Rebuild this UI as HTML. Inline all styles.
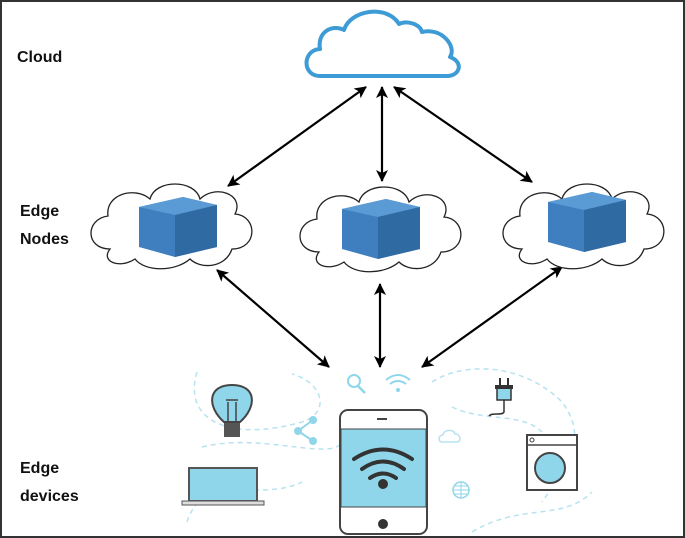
<!DOCTYPE html>
<html><head><style>
body{margin:0;background:#fff}
.w{position:relative;width:681px;height:534px;border:2px solid #333;overflow:hidden;font-family:"Liberation Sans",sans-serif}
.l{position:absolute;font-weight:bold;font-size:16px;color:#111;line-height:28px}
</style></head><body><div class="w">
<div class="l" style="left:15px;top:42px">Cloud</div>
<div class="l" style="left:18px;top:196px">Edge<br>Nodes</div>
<div class="l" style="left:18px;top:453px">Edge<br>devices</div>
<svg width="681" height="534" style="position:absolute;left:0;top:0">
<defs>
<marker id="a" markerWidth="12" markerHeight="12" refX="11" refY="6" orient="auto-start-reverse" markerUnits="userSpaceOnUse" viewBox="0 0 12 12"><path d="M0,0 L12,6 L0,12 L3,6 z" fill="#000"/></marker>
<g id="cl"><path d="M-60,25 C-85,25 -85,-5 -62,-8 C-65,-30 -35,-38 -20,-25 C-15,-45 25,-45 30,-25 C45,-40 75,-30 65,-10 C88,-8 88,25 62,25 C55,45 30,45 20,35 C5,48 -25,48 -35,35 C-50,45 -70,38 -60,25 Z" fill="#fff" stroke="#222" stroke-width="1.3"/></g>
<g id="cube"><polygon points="0,10 44,0 78,8 78,50 36,60 0,50" fill="#3f7fbf"/><polygon points="0,10 44,0 78,8 36,18" fill="#5b9bd5"/><polygon points="36,18 78,8 78,50 36,60" fill="#2f6aa3"/></g>
</defs>
<path d="M318,74 C300,74 300,48 318,47 C315,30 330,22 342,28 C348,8 385,2 397,22 C405,18 418,22 420,30 C440,25 455,45 448,55 C462,60 458,74 445,74 Z" fill="#fff" stroke="#3d9bd6" stroke-width="4" stroke-linejoin="round"/>
<g stroke="#000" stroke-width="2.2" marker-start="url(#a)" marker-end="url(#a)">
<line x1="364" y1="85" x2="226" y2="184"/>
<line x1="380" y1="85" x2="380" y2="179"/>
<line x1="392" y1="85" x2="530" y2="180"/>
<line x1="215" y1="268" x2="327" y2="365"/>
<line x1="378" y1="282" x2="378" y2="365"/>
<line x1="560" y1="265" x2="420" y2="365"/>
</g>
<use href="#cl" x="168" y="222"/><use href="#cl" x="377" y="225"/><use href="#cl" x="580" y="222"/>
<use href="#cube" x="137" y="195"/><use href="#cube" x="340" y="197"/><use href="#cube" x="546" y="190"/>
<g fill="none" stroke="#b7e2f0" stroke-width="1.5" stroke-dasharray="5 4">
<path d="M195,370 C180,420 230,440 300,420 C330,410 320,380 290,372"/>
<path d="M200,445 C260,430 330,460 340,440"/>
<path d="M185,520 C200,470 260,500 300,480"/>
<path d="M430,380 C460,360 520,360 560,400 C590,440 560,470 540,500"/>
<path d="M470,530 C520,500 560,520 590,490"/>
<path d="M450,405 C480,420 520,410 540,430"/>
</g>
<rect x="338" y="408" width="87" height="124" rx="8" fill="#fff" stroke="#444" stroke-width="2"/>
<rect x="339" y="427" width="85" height="78" fill="#8fd6ea" stroke="#444" stroke-width="1"/>
<rect x="375" y="416" width="10" height="2" fill="#444"/>
<circle cx="381" cy="522" r="5" fill="#333"/>
<g fill="none" stroke="#333" stroke-width="4" stroke-linecap="round">
<path d="M352,457 Q381,438 410,457"/><path d="M360,467 Q381,452 402,467"/><path d="M368,476 Q381,467 394,476"/></g>
<circle cx="381" cy="482" r="5" fill="#333"/>
<rect x="187" y="466" width="68" height="33" fill="#8fd6ea" stroke="#555" stroke-width="2"/>
<rect x="180" y="499" width="82" height="4" fill="#ddd" stroke="#555" stroke-width="1"/>
<path d="M222,420 C205,405 205,383 230,383 C255,383 255,405 238,420 Z" fill="#8fd6ea" stroke="#444" stroke-width="2"/>
<rect x="222" y="421" width="16" height="14" fill="#555"/>
<path d="M226,420 V400 M234,420 V400 M224,398 H236" stroke="#444" stroke-width="1.5"/>
<g fill="#8fd6ea"><circle cx="311" cy="418" r="4"/><circle cx="296" cy="429" r="4"/><circle cx="311" cy="439" r="4"/></g>
<path d="M311,418 L296,429 L311,439" stroke="#8fd6ea" stroke-width="2" fill="none"/>
<circle cx="352" cy="379" r="6" fill="none" stroke="#8fd6ea" stroke-width="2"/>
<line x1="356" y1="384" x2="363" y2="391" stroke="#8fd6ea" stroke-width="2.5"/>
<g fill="none" stroke="#8fd6ea" stroke-width="2"><path d="M384,378 Q396,368 408,378"/><path d="M388,382 Q396,376 404,382"/></g>
<circle cx="396" cy="388" r="2" fill="#8fd6ea"/>
<rect x="495" y="386" width="14" height="12" fill="#8fd6ea" stroke="#333" stroke-width="1.5"/>
<rect x="493" y="383" width="18" height="4" fill="#333"/>
<path d="M498,383 V376 M506,383 V376" stroke="#333" stroke-width="2"/>
<path d="M502,398 V410 C500,414 490,410 487,414" stroke="#333" stroke-width="1.5" fill="none"/>
<path d="M440,440 C436,440 436,433 441,433 C442,427 452,427 453,432 C458,431 460,440 455,440 Z" fill="none" stroke="#b7e2f0" stroke-width="1.5"/>
<circle cx="459" cy="488" r="8" fill="none" stroke="#8fd6ea" stroke-width="1.5"/>
<path d="M451,488 H467 M459,480 V496 M453,484 H465 M453,492 H465" stroke="#8fd6ea" stroke-width="1"/>
<rect x="525" y="433" width="50" height="55" fill="#fff" stroke="#444" stroke-width="2"/>
<line x1="525" y1="443" x2="575" y2="443" stroke="#444" stroke-width="1.5"/>
<circle cx="530" cy="438" r="2" fill="none" stroke="#444"/>
<circle cx="548" cy="466" r="15" fill="#8fd6ea" stroke="#444" stroke-width="2"/>
</svg>
</div></body></html>
